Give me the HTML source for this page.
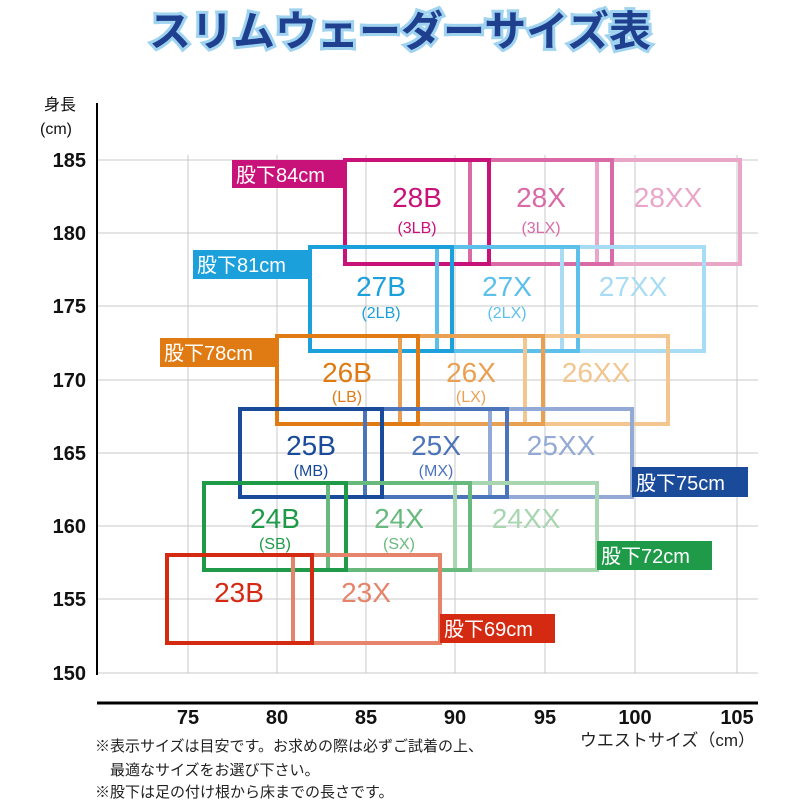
<!DOCTYPE html>
<html><head><meta charset="utf-8"><style>
body{margin:0;background:#fff;}
svg text{font-family:"Liberation Sans Narrow","Liberation Sans","Noto Sans CJK JP",sans-serif;}
</style></head><body>
<svg width="800" height="800" viewBox="0 0 800 800" xmlns="http://www.w3.org/2000/svg">
<rect width="800" height="800" fill="#fff"/>
<text x="400" y="46" text-anchor="middle" font-size="42" font-weight="bold" fill="#1f3f8f" stroke="#9fd3f0" stroke-width="6" paint-order="stroke" style="font-family:'Noto Sans CJK JP',sans-serif">スリムウェーダーサイズ表</text>
<g stroke="#c8c8c8" stroke-width="1">
<line x1="188" y1="155" x2="188" y2="673"/><line x1="277" y1="155" x2="277" y2="673"/>
<line x1="366" y1="155" x2="366" y2="673"/><line x1="455" y1="155" x2="455" y2="673"/>
<line x1="545" y1="155" x2="545" y2="673"/><line x1="635" y1="155" x2="635" y2="673"/>
<line x1="737" y1="155" x2="737" y2="673"/>
<line x1="97" y1="160" x2="758" y2="160"/><line x1="97" y1="233" x2="758" y2="233"/>
<line x1="97" y1="306" x2="758" y2="306"/><line x1="97" y1="380" x2="758" y2="380"/>
<line x1="97" y1="453" x2="758" y2="453"/><line x1="97" y1="526" x2="758" y2="526"/>
<line x1="97" y1="599" x2="758" y2="599"/><line x1="97" y1="673" x2="758" y2="673"/>
</g>
<line x1="97" y1="103" x2="97" y2="675" stroke="#000" stroke-width="2"/>
<line x1="97" y1="703" x2="758" y2="703" stroke="#000" stroke-width="3"/>
<g font-size="20" font-weight="bold" fill="#111" text-anchor="end">
<text x="86" y="167">185</text><text x="86" y="240">180</text><text x="86" y="313">175</text>
<text x="86" y="387">170</text><text x="86" y="460">165</text><text x="86" y="533">160</text>
<text x="86" y="606">155</text><text x="86" y="680">150</text>
</g>
<text x="44" y="110" font-size="16" fill="#111">身長</text>
<text x="40" y="134" font-size="16" fill="#111">(cm)</text>
<g font-size="20" font-weight="bold" fill="#111" text-anchor="middle">
<text x="188" y="724">75</text><text x="277" y="724">80</text><text x="366" y="724">85</text>
<text x="455" y="724">90</text><text x="545" y="724">95</text><text x="635" y="724">100</text><text x="737" y="724">105</text>
</g>
<text x="755" y="746" font-size="17" fill="#222" text-anchor="end">ウエストサイズ（cm）</text>
<g font-size="15" fill="#222">
<text x="95" y="751">※表示サイズは目安です。お求めの際は必ずご試着の上、</text>
<text x="110" y="775">最適なサイズをお選び下さい。</text>
<text x="95" y="797">※股下は足の付け根から床までの長さです。</text>
</g>
<g fill="none" stroke-width="4">
<rect x="597" y="160" width="143" height="104" stroke="#eaa6c8"/>
<rect x="470" y="160" width="142" height="104" stroke="#d96aa5"/>
<rect x="345" y="160" width="144" height="104" stroke="#c8127a"/>
<rect x="562" y="247" width="142" height="104" stroke="#a8dcf4"/>
<rect x="437" y="247" width="141" height="104" stroke="#5cc0ea"/>
<rect x="310" y="247" width="142" height="104" stroke="#1ba0dc"/>
<rect x="525" y="336" width="143" height="88" stroke="#f3c690"/>
<rect x="400" y="336" width="143" height="88" stroke="#eaa052"/>
<rect x="277" y="336" width="141" height="88" stroke="#e07b14"/>
<rect x="490" y="409" width="142" height="88" stroke="#93a9d6"/>
<rect x="365" y="409" width="142" height="88" stroke="#4c74bb"/>
<rect x="240" y="409" width="142" height="88" stroke="#1a4a9a"/>
<rect x="455" y="483" width="142" height="87" stroke="#a8d6b1"/>
<rect x="328" y="483" width="142" height="87" stroke="#68b97e"/>
<rect x="204" y="483" width="142" height="87" stroke="#1e9a48"/>
<rect x="293" y="555" width="147" height="88" stroke="#e6846b"/>
<rect x="167" y="555" width="145" height="88" stroke="#d42a12"/>
</g>
<g font-size="20" fill="#fff">
<rect x="232" y="160" width="113" height="28" fill="#c8127a"/><text x="236" y="182">股下84cm</text>
<rect x="193" y="250" width="117" height="29" fill="#1ba0dc"/><text x="197" y="272">股下81cm</text>
<rect x="160" y="338" width="117" height="29" fill="#e07b14"/><text x="164" y="360">股下78cm</text>
<rect x="632" y="467" width="116" height="30" fill="#1a4a9a"/><text x="636" y="490">股下75cm</text>
<rect x="597" y="541" width="115" height="29" fill="#1e9a48"/><text x="601" y="563">股下72cm</text>
<rect x="440" y="614" width="115" height="29" fill="#d42a12"/><text x="444" y="636">股下69cm</text>
</g>
<g font-size="28" text-anchor="middle">
<text x="417" y="207" fill="#c8127a">28B</text><text x="541" y="207" fill="#d96aa5">28X</text><text x="668" y="207" fill="#eaa6c8">28XX</text>
<text x="381" y="296" fill="#1ba0dc">27B</text><text x="507" y="296" fill="#5cc0ea">27X</text><text x="633" y="296" fill="#a8dcf4">27XX</text>
<text x="347" y="382" fill="#e07b14">26B</text><text x="471" y="382" fill="#eaa052">26X</text><text x="596" y="382" fill="#f3c690">26XX</text>
<text x="311" y="455" fill="#1a4a9a">25B</text><text x="436" y="455" fill="#4c74bb">25X</text><text x="561" y="455" fill="#93a9d6">25XX</text>
<text x="275" y="528" fill="#1e9a48">24B</text><text x="399" y="528" fill="#68b97e">24X</text><text x="526" y="528" fill="#a8d6b1">24XX</text>
<text x="239" y="602" fill="#d42a12">23B</text><text x="366" y="602" fill="#e6846b">23X</text>
</g>
<g font-size="16" text-anchor="middle">
<text x="417" y="233" fill="#c8127a">(3LB)</text><text x="541" y="233" fill="#d96aa5">(3LX)</text>
<text x="381" y="318" fill="#1ba0dc">(2LB)</text><text x="507" y="318" fill="#5cc0ea">(2LX)</text>
<text x="347" y="402" fill="#e07b14">(LB)</text><text x="471" y="402" fill="#eaa052">(LX)</text>
<text x="311" y="476" fill="#1a4a9a">(MB)</text><text x="436" y="476" fill="#4c74bb">(MX)</text>
<text x="275" y="549" fill="#1e9a48">(SB)</text><text x="399" y="549" fill="#68b97e">(SX)</text>
</g>
</svg>
</body></html>
